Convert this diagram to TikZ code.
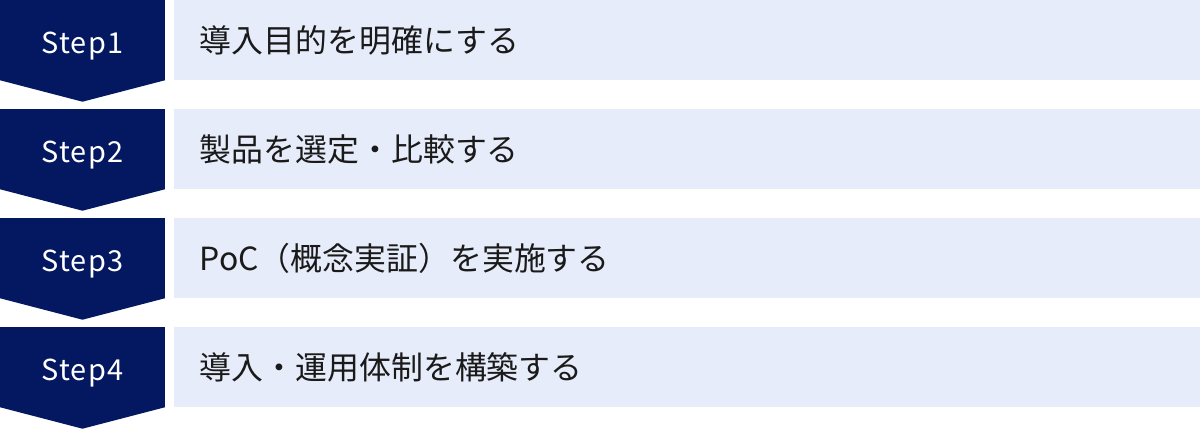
\documentclass[tikz,border=0pt]{standalone}
\usepackage{fontspec}
\setmainfont{Noto Sans CJK JP}
\newfontfamily\stepfont[LetterSpace=4]{Noto Sans CJK JP}
\usetikzlibrary{calc}
\definecolor{stepnavy}{HTML}{041861}
\definecolor{taskblue}{HTML}{E6ECF9}
\definecolor{tasktext}{HTML}{1A1A1A}

\begin{document}
\begin{tikzpicture}[x=1bp,y=-1bp]

\tikzset{stepbox/.style={
  rectangle,
  inner sep=0pt,
  fill=stepnavy, text=white,
  minimum width=165bp,
  minimum height = 80bp,
  text height=30bp, text depth=4bp,
  font=\stepfont\fontsize{29}{34}\selectfont
  },
  task/.style={
  rectangle,
  inner xsep=26bp, inner ysep=0pt,
  text width=974bp,
  align=left,
  fill=taskblue, text=tasktext,
  minimum height = 80bp,
  font=\fontsize{32}{38}\selectfont
  }}

\useasboundingbox (0,0) rectangle (1200,429);

\node[stepbox] (s1) at (82.5,40) {Step1};
\node[stepbox] (s2) at (82.5,149) {Step2};
\node[stepbox] (s3) at (82.5,258) {Step3};
\node[stepbox] (s4) at (82.5,367) {Step4};

%\fill the arrow points below the steps
\fill[stepnavy] (s1.south west) -- (s1.south east) -- ($(s1.south)+(0,21.5)$) -- cycle;
\fill[stepnavy] (s2.south west) -- (s2.south east) -- ($(s2.south)+(0,21.5)$) -- cycle;
\fill[stepnavy] (s3.south west) -- (s3.south east) -- ($(s3.south)+(0,21.5)$) -- cycle;
\fill[stepnavy] (s4.south west) -- (s4.south east) -- ($(s4.south)+(0,21.5)$) -- cycle;

\node[task] (t1) at (687,40) {導入目的を明確にする};
\node[task] (t2) at (687,149) {製品を選定・比較する};
\node[task] (t3) at (687,258) {PoC（概念実証）を実施する};
\node[task] (t4) at (687,367) {導入・運用体制を構築する};

\end{tikzpicture}
\end{document}
